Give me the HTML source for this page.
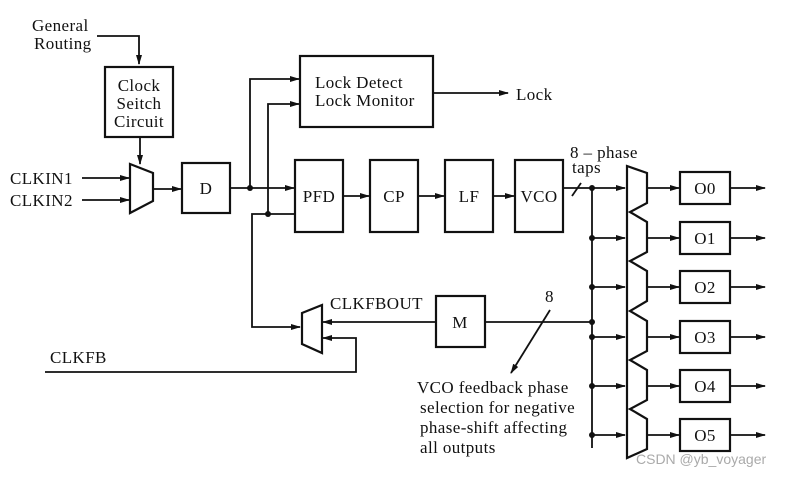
<!DOCTYPE html>
<html><head><meta charset="utf-8"><style>
html,body{margin:0;padding:0;background:#fff;}
svg{display:block;}
text{font-family:"Liberation Serif",serif;font-size:17px;letter-spacing:0.4px;fill:#111;}
</style></head><body>
<svg width="790" height="477" viewBox="0 0 790 477" xmlns="http://www.w3.org/2000/svg">
<defs><marker id="a" markerWidth="10" markerHeight="8" refX="9" refY="4" orient="auto" markerUnits="userSpaceOnUse"><path d="M0,1 L10,4 L0,7 Z" fill="#111"/></marker></defs>
<g stroke="#111" stroke-width="1.8" fill="none">
<path d="M97,36 H139 V64" marker-end="url(#a)"/>
<rect x="105" y="67" width="68" height="70" stroke-width="2.2"/>
<path d="M140,137 V164" marker-end="url(#a)"/>
<path d="M130,164 L153,173 L153,201 L130,213 Z" stroke-width="2.2"/>
<path d="M82,178 H129" marker-end="url(#a)"/>
<path d="M82,200 H129" marker-end="url(#a)"/>
<path d="M153,189 H181" marker-end="url(#a)"/>
<rect x="182" y="163" width="48" height="50" stroke-width="2.2"/>
<path d="M230,188 H294" marker-end="url(#a)"/>
<path d="M250,188 V79 H299" marker-end="url(#a)"/>
<path d="M268,214 V104 H299" marker-end="url(#a)"/>
<path d="M295,214 H252 V327 H300" marker-end="url(#a)"/>
<rect x="300" y="56" width="133" height="71" stroke-width="2.2"/>
<path d="M433,93 H508" marker-end="url(#a)"/>
<rect x="295" y="160" width="48" height="72" stroke-width="2.2"/>
<rect x="370" y="160" width="48" height="72" stroke-width="2.2"/>
<rect x="445" y="160" width="48" height="72" stroke-width="2.2"/>
<rect x="515" y="160" width="48" height="72" stroke-width="2.2"/>
<path d="M343,196 H369" marker-end="url(#a)"/>
<path d="M418,196 H444" marker-end="url(#a)"/>
<path d="M493,196 H514" marker-end="url(#a)"/>
<path d="M563,188 H625" marker-end="url(#a)"/>
<path d="M572,196 L581,183"/>
<path d="M592,188 V448"/>
<path d="M592,238 H625" marker-end="url(#a)"/>
<path d="M592,287 H625" marker-end="url(#a)"/>
<path d="M592,337 H625" marker-end="url(#a)"/>
<path d="M592,386 H625" marker-end="url(#a)"/>
<path d="M592,435 H625" marker-end="url(#a)"/>
<path d="M627,166 L647,173 V203 L630,212 L647,222 V252 L630,261 L647,271 V301 L630,311 L647,321 V351 L630,360 L647,370 V400 L630,409 L647,419 V449 L627,458 Z" stroke-width="2.2"/>
<rect x="680" y="172" width="50" height="32" stroke-width="2.2"/>
<rect x="680" y="222" width="50" height="32" stroke-width="2.2"/>
<rect x="680" y="271" width="50" height="32" stroke-width="2.2"/>
<rect x="680" y="321" width="50" height="32" stroke-width="2.2"/>
<rect x="680" y="370" width="50" height="32" stroke-width="2.2"/>
<rect x="680" y="419" width="50" height="32" stroke-width="2.2"/>
<path d="M647,188 H679" marker-end="url(#a)"/><path d="M730,188 H765" marker-end="url(#a)"/>
<path d="M647,238 H679" marker-end="url(#a)"/><path d="M730,238 H765" marker-end="url(#a)"/>
<path d="M647,287 H679" marker-end="url(#a)"/><path d="M730,287 H765" marker-end="url(#a)"/>
<path d="M647,337 H679" marker-end="url(#a)"/><path d="M730,337 H765" marker-end="url(#a)"/>
<path d="M647,386 H679" marker-end="url(#a)"/><path d="M730,386 H765" marker-end="url(#a)"/>
<path d="M647,435 H679" marker-end="url(#a)"/><path d="M730,435 H765" marker-end="url(#a)"/>
<rect x="436" y="296" width="49" height="51" stroke-width="2.2"/>
<path d="M592,322 H485"/>
<path d="M436,322 H323" marker-end="url(#a)"/>
<path d="M45,372 H356 V338 H323" marker-end="url(#a)"/>
<path d="M302,313 L322,305 L322,353 L302,344 Z" stroke-width="2.2"/>
<path d="M550,310 L511,373" marker-end="url(#a)"/>
</g>
<g fill="#111">
<circle cx="250" cy="188" r="3"/><circle cx="268" cy="214" r="3"/>
<circle cx="592" cy="188" r="3"/><circle cx="592" cy="238" r="3"/><circle cx="592" cy="287" r="3"/>
<circle cx="592" cy="322" r="3"/><circle cx="592" cy="337" r="3"/><circle cx="592" cy="386" r="3"/><circle cx="592" cy="435" r="3"/>
</g>
<text x="32" y="31">General</text><text x="34" y="49">Routing</text>
<text x="139" y="91" text-anchor="middle">Clock</text>
<text x="139" y="109" text-anchor="middle">Seitch</text>
<text x="139" y="127" text-anchor="middle">Circuit</text>
<text x="10" y="184">CLKIN1</text><text x="10" y="206">CLKIN2</text>
<text x="206" y="194" text-anchor="middle">D</text>
<text x="315" y="88">Lock Detect</text><text x="315" y="106">Lock Monitor</text>
<text x="516" y="100">Lock</text>
<text x="319" y="202" text-anchor="middle">PFD</text>
<text x="394" y="202" text-anchor="middle">CP</text>
<text x="469" y="202" text-anchor="middle">LF</text>
<text x="539" y="202" text-anchor="middle">VCO</text>
<text x="570" y="158">8 – phase</text><text x="572" y="173">taps</text>
<text x="705" y="194" text-anchor="middle">O0</text>
<text x="705" y="244" text-anchor="middle">O1</text>
<text x="705" y="293" text-anchor="middle">O2</text>
<text x="705" y="343" text-anchor="middle">O3</text>
<text x="705" y="392" text-anchor="middle">O4</text>
<text x="705" y="441" text-anchor="middle">O5</text>
<text x="460" y="328" text-anchor="middle">M</text>
<text x="330" y="309">CLKFBOUT</text>
<text x="50" y="363">CLKFB</text>
<text x="545" y="302">8</text>
<text x="417" y="393">VCO feedback phase</text>
<text x="420" y="413">selection for negative</text>
<text x="420" y="433">phase-shift affecting</text>
<text x="420" y="453">all outputs</text>
<text x="636" y="464" style="font-family:'Liberation Sans',sans-serif;font-size:14px;letter-spacing:0;fill:#aaa;">CSDN @yb_voyager</text>
</svg>
</body></html>
